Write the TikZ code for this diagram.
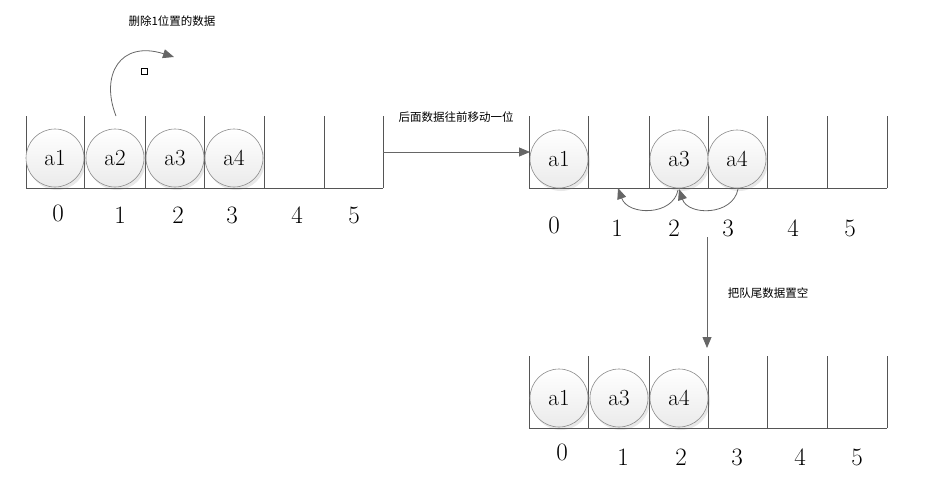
\documentclass[tikz,border=0pt]{standalone}
\usepackage{fontspec}
\newfontfamily\cjk{Noto Sans CJK SC}
\usetikzlibrary{arrows.meta,shadows}
\definecolor{linec}{HTML}{555555}
\definecolor{arrc}{HTML}{666666}
\begin{document}
\begin{tikzpicture}[x=1pt,y=-1pt,
  cell/.style={draw=linec, line width=0.8pt},
  ball/.style={circle, minimum size=58pt, inner sep=0pt, draw=gray!90, line width=0.6pt,
    top color=white, bottom color=gray!16,
    drop shadow={opacity=0.18, shadow xshift=2pt, shadow yshift=-3pt, fill=gray},
    font=\fontsize{23}{26}\selectfont, text=black},
  idx/.style={font=\fontsize{25}{28}\selectfont, text=black, inner sep=0pt},
  note/.style={font=\cjk\fontsize{11.5}{14}\selectfont, inner sep=0pt},
  arr/.style={draw=arrc, line width=0.8pt, -{Triangle[length=11pt,width=9pt]}, fill=none}]
\useasboundingbox (0,0) rectangle (947,495);
% ---------- array 1 ----------
\foreach \x in {26,84,145,204,264,324,383} \draw[cell] (\x,116) -- (\x,188);
\draw[cell] (26,188) -- (383,188);
\node[ball] (A1) at (55,158) {a1};
\node[ball] (A2) at (115,158) {a2};
\node[ball] (A3) at (175,158) {a3};
\node[ball] (A4) at (234,158) {a4};
\node[idx] (i10) at (58,213) {0};
\node[idx] (i11) at (120,215) {1};
\node[idx] (i12) at (178,215) {2};
\node[idx] (i13) at (232,215) {3};
\node[idx] (i14) at (297,215) {4};
\node[idx] (i15) at (354,215) {5};
\coordinate (up0) at (116,116);
\coordinate (up1) at (174,57);
\draw[arr] (up0) .. controls (100,75) and (120,40) .. (up1);
\node[draw=black, line width=0.8pt, minimum size=6pt, inner sep=0pt] (sq) at (144,71) {};
\node[note] (t1) at (172,21) {删除1位置的数据};
% ---------- arrow 1 ----------
\coordinate (h0) at (383,152);
\coordinate (h1) at (530,152);
\draw[arr] (h0) -- (h1);
\node[note] (t2) at (456,117) {后面数据往前移动一位};
% ---------- array 2 ----------
\foreach \x in {529,588,649,708,767,827,887} \draw[cell] (\x,116) -- (\x,188);
\draw[cell] (529,188) -- (887,188);
\node[ball] (B1) at (559,159) {a1};
\node[ball] (B3) at (679,159) {a3};
\node[ball] (B4) at (737,159) {a4};
\node[idx] (i20) at (554,225) {0};
\node[idx] (i21) at (617,228) {1};
\node[idx] (i22) at (674,228) {2};
\node[idx] (i23) at (728,228) {3};
\node[idx] (i24) at (793,228) {4};
\node[idx] (i25) at (850,228) {5};
\coordinate (c1a) at (678,190);
\coordinate (c1b) at (618,188);
\coordinate (c2a) at (738,189);
\coordinate (c2b) at (679,189);
\draw[arr] (c1a) .. controls (673,216) and (628,216) .. (c1b);
\draw[arr] (c2a) .. controls (733,216) and (688,216) .. (c2b);
% ---------- arrow 2 ----------
\coordinate (v0) at (707,237);
\coordinate (v1) at (707,348);
\draw[arr] (v0) -- (v1);
\node[note] (t3) at (768,293) {把队尾数据置空};
% ---------- array 3 ----------
\foreach \x in {529,588,649,708,767,827,887} \draw[cell] (\x,356) -- (\x,428);
\draw[cell] (529,428) -- (887,428);
\node[ball] (C1) at (559,398) {a1};
\node[ball] (C3) at (619,398) {a3};
\node[ball] (C4) at (679,398) {a4};
\node[idx] (i30) at (562,452) {0};
\node[idx] (i31) at (623,457) {1};
\node[idx] (i32) at (681,457) {2};
\node[idx] (i33) at (737,457) {3};
\node[idx] (i34) at (800,457) {4};
\node[idx] (i35) at (857,457) {5};
\end{tikzpicture}
\end{document}
